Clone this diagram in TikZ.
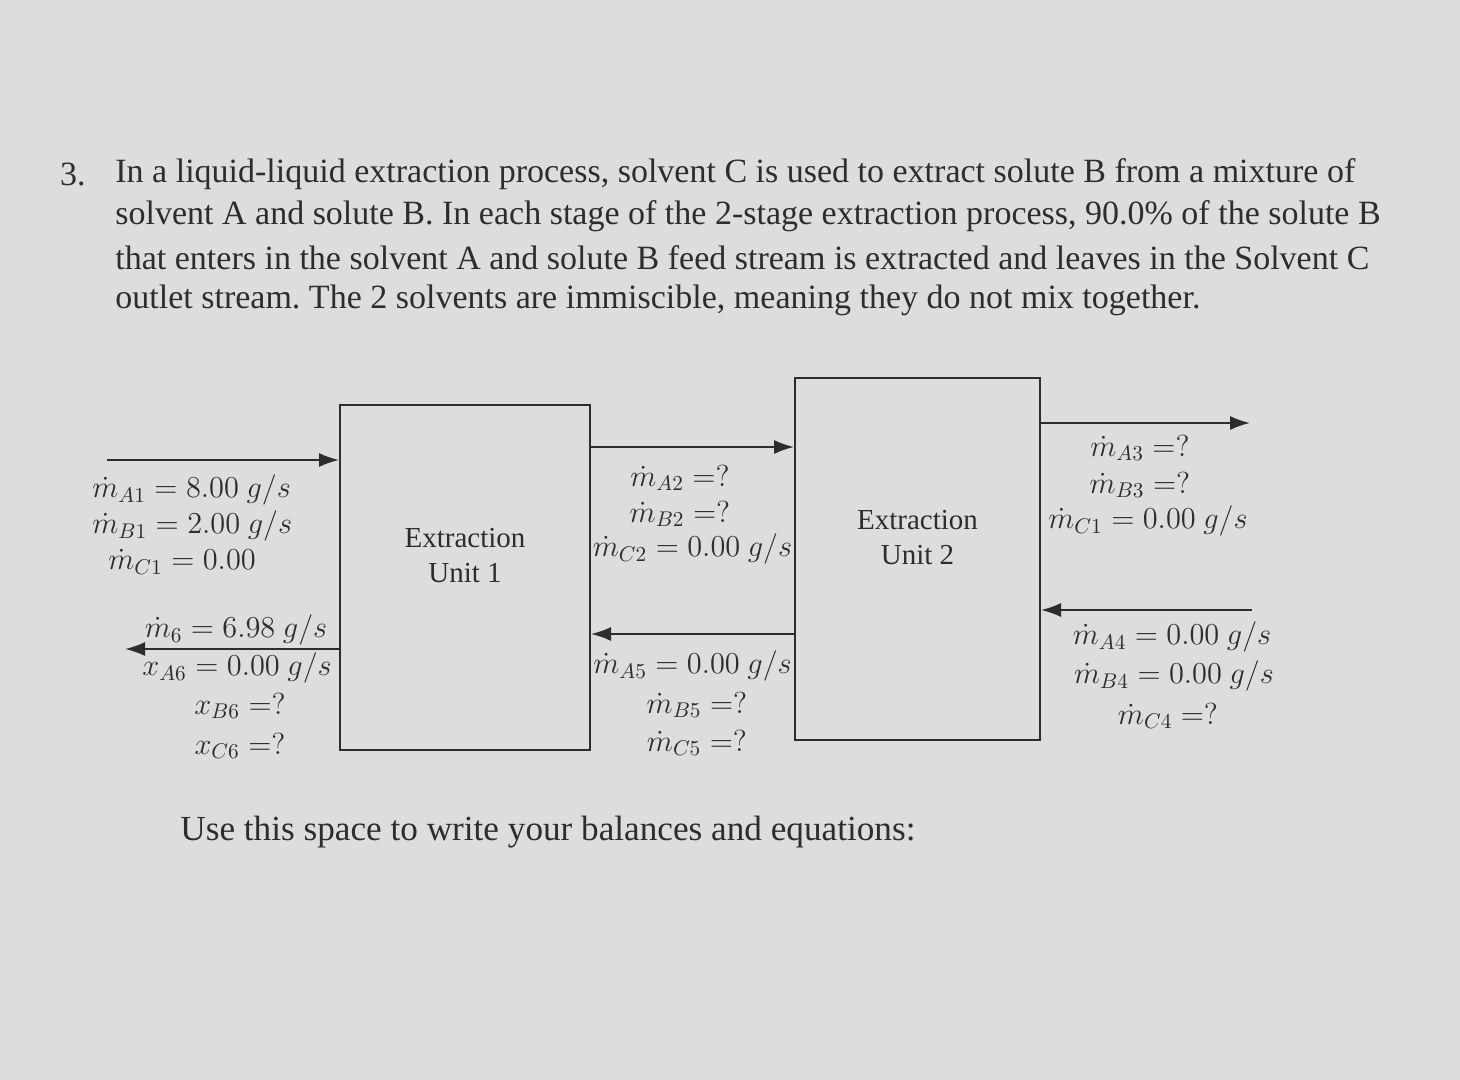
\RequirePackage{fix-cm}
\documentclass[tikz,border=0pt]{standalone}
\usepackage{fontspec}
\setmainfont{Liberation Serif}
\usetikzlibrary{arrows.meta}
\frenchspacing
\definecolor{paper}{RGB}{221,221,223}
\definecolor{ink}{RGB}{45,45,48}
\tikzset{
  unitbox/.style={draw=ink, line width=1pt, fill=none, inner sep=0pt},
  unittext/.style={align=center, inner sep=0pt, font=\fontsize{14.5}{17.5}\selectfont, text=ink},
  flow/.style={draw=ink, line width=0.9pt, -{Latex[length=10pt,width=7pt]}},
  lbl/.style={font=\fontsize{15.2}{18}\selectfont, text=ink, inner sep=0pt},
  para/.style={font=\fontsize{17}{21}\selectfont, text=ink, anchor=west, inner sep=0pt},
}
\begin{document}
\begin{tikzpicture}[x=0.5pt,y=-0.5pt]
\fill[paper] (0,0) rectangle (1460,1080);
\useasboundingbox (0,0) rectangle (1460,1080);

% problem statement
\node[para, anchor=east] (num) at (86,174) {3.};
\node[para] (l1) at (115,174) {In a liquid-liquid extraction process, solvent C is used to extract solute B from a mixture of};
\node[para] (l2) at (115,216) {solvent A and solute B. In each stage of the 2-stage extraction process, 90.0\% of the solute B};
\node[para] (l3) at (115,258) {that enters in the solvent A and solute B feed stream is extracted and leaves in the Solvent C};
\node[para] (l4) at (115,300) {outlet stream. The 2 solvents are immiscible, meaning they do not mix together.};

% units
\node[unitbox, minimum width=125pt, minimum height=172.5pt] (u1) at (465,577.5) {};
\node[unitbox, minimum width=122.5pt, minimum height=181pt] (u2) at (917.5,559) {};
\node[unittext] (t1) at (u1.center |- 0,556) {Extraction\\Unit 1};
\node[unittext] (t2) at (u2.center |- 0,538) {Extraction\\Unit 2};

% stream coordinates
\coordinate (s1) at (107,460);
\coordinate (s6) at (125,649);
\coordinate (y2) at (0,447);
\coordinate (y5) at (0,634);
\coordinate (s3) at (1250,423);
\coordinate (s4) at (1252,610);

\draw[flow] (s1) -- (u1.west |- s1);
\draw[flow] (u1.west |- s6) -- (s6);
\draw[flow] (u1.east |- y2) -- (u2.west |- y2);
\draw[flow] (u2.west |- y5) -- (u1.east |- y5);
\draw[flow] (u2.east |- s3) -- (s3);
\draw[flow] (s4) -- (u2.east |- s4);

% stream 1
\node[lbl, anchor=west] (a1) at (92,490) {$\dot m_{A1} = 8.00\ g/s$};
\node[lbl, anchor=west] (b1) at (92,526) {$\dot m_{B1} = 2.00\ g/s$};
\node[lbl, anchor=west] (c1) at (108,562) {$\dot m_{C1} = 0.00$};
% stream 6
\node[lbl] (m6) at (236,630) {$\dot m_{6} = 6.98\ g/s$};
\node[lbl] (xa6) at (237,668) {$x_{A6} = 0.00\ g/s$};
\node[lbl] (xb6) at (240,706) {$x_{B6} =?$};
\node[lbl] (xc6) at (240,746) {$x_{C6} =?$};
% stream 2
\node[lbl] (a2) at (680,478) {$\dot m_{A2} =?$};
\node[lbl] (b2) at (680,514) {$\dot m_{B2} =?$};
\node[lbl] (c2) at (692.5,549) {$\dot m_{C2} = 0.00\ g/s$};
% stream 5
\node[lbl] (a5) at (692.5,666) {$\dot m_{A5} = 0.00\ g/s$};
\node[lbl] (b5) at (697,705) {$\dot m_{B5} =?$};
\node[lbl] (c5) at (697,743) {$\dot m_{C5} =?$};
% stream 3
\node[lbl] (a3) at (1140,448) {$\dot m_{A3} =?$};
\node[lbl] (b3) at (1140,485) {$\dot m_{B3} =?$};
\node[lbl] (c3) at (1148,521) {$\dot m_{C1} = 0.00\ g/s$};
% stream 4
\node[lbl] (a4) at (1172,637) {$\dot m_{A4} = 0.00\ g/s$};
\node[lbl] (b4) at (1174,676) {$\dot m_{B4} = 0.00\ g/s$};
\node[lbl] (c4) at (1168,716) {$\dot m_{C4} =?$};

% footer
\node[para, font=\fontsize{17.6}{21}\selectfont] (use) at (180,832) {Use this space to write your balances and equations:};
\end{tikzpicture}
\end{document}
